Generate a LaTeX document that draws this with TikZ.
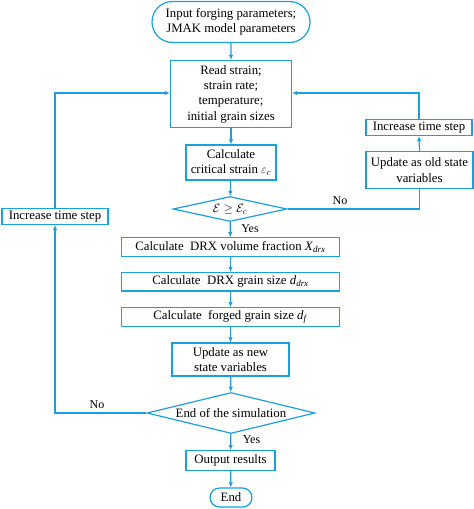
\documentclass[tikz,border=0pt]{standalone}
\usepackage{fontspec}
\setmainfont{Liberation Serif}
\usetikzlibrary{arrows.meta,shapes.geometric,shapes.misc,calc}
\definecolor{fc}{RGB}{27,160,222}
\newcommand{\itv}[2]{\textit{#1}\textsubscript{\textit{#2}}}
\begin{document}
\begin{tikzpicture}[x=1pt,y=-1pt,
  every node/.style={font=\fontsize{12.8}{15.3}\selectfont, text=black, inner sep=0pt},
  box/.style={draw=fc, line width=1.2pt, rectangle, align=center},
  term/.style={draw=fc, line width=1.2pt, rounded rectangle, align=center},
  dec/.style={draw=fc, line width=1.2pt, diamond, aspect=4.5, inner sep=0pt},
  ln/.style={draw=fc, line width=1.2pt},
  arr/.style={draw=fc, line width=1.2pt, -{Latex[length=5pt,width=4.5pt]}},
  lab/.style={font=\fontsize{12}{13}\selectfont}]
\useasboundingbox (0,0) rectangle (474,509);
\node[term, minimum width=158, minimum height=41] (start) at (231,22) {Input forging parameters;\\JMAK model parameters};
\node[box, minimum width=121, minimum height=67] (read) at (231,94) {Read strain;\\strain rate;\\temperature;\\initial grain sizes};
\node[box, minimum width=90, minimum height=35] (crit) at (231,162.5) {Calculate\\critical strain $\varepsilon_c$};
\node[dec, minimum width=114, minimum height=25] (d1) at (230,209) {$\mathcal{E}\geq\mathcal{E}_c$};
\node[box, minimum width=218, minimum height=18.5] (xdrx) at (230.5,247) {Calculate\ \ DRX volume fraction \itv{X}{drx}};
\node[box, minimum width=218, minimum height=18.5] (ddrx) at (230.5,281.7) {Calculate\ \ DRX grain size \itv{d}{drx}};
\node[box, minimum width=218, minimum height=18.5] (df) at (230.5,317) {Calculate\ \ forged grain size \itv{d}{f}};
\node[box, minimum width=117, minimum height=33] (upd) at (230.5,359.5) {Update as new\\state variables};
\node[dec, minimum width=168, minimum height=41] (d2) at (231,413) {End of the simulation};
\node[box, minimum width=89, minimum height=19.5] (out) at (230.5,460.5) {Output results};
\node[term, minimum width=42, minimum height=19] (end) at (231,497.5) {End};
\node[box, minimum width=106, minimum height=16] (incl) at (55,216.5) {Increase time step};
\node[box, minimum width=106, minimum height=16] (incr) at (419,127.5) {Increase time step};
\node[box, minimum width=107, minimum height=36.5] (old) at (419.5,170) {Update as old state\\variables};
\coordinate (tl) at (55,93);
\coordinate (bl) at (55,413);
\coordinate (tr) at (419,93);
\coordinate (br) at (419.5,209);
% main chain
\draw[arr] (start) -- (read);
\draw[arr] (read) -- (crit);
\draw[arr] (crit) -- (d1);
\draw[arr] (d1) -- (xdrx);
\draw[arr] (xdrx) -- (ddrx);
\draw[arr] (ddrx) -- (df);
\draw[arr] (df) -- (upd);
\draw[arr] (upd) -- (d2);
\draw[arr] (d2) -- (out);
\draw[arr] (out) -- (end);
% left loop
\draw[arr] (d2.west) -- (bl) -- (incl.south);
\draw[arr] (incl.north) -- (tl) -- (read.west |- tl);
% right loop
\draw[ln] (d1.east) -- (br) -- (old.south);
\draw[arr] (old.north) -- (incr.south);
\draw[arr] (incr.north) -- (tr) -- (read.east |- tr);
% labels
\node[lab] at (340,201) {No};
\node[lab] at (250,228.5) {Yes};
\node[lab] at (97,405) {No};
\node[lab] at (251.5,440) {Yes};
\end{tikzpicture}
\end{document}
